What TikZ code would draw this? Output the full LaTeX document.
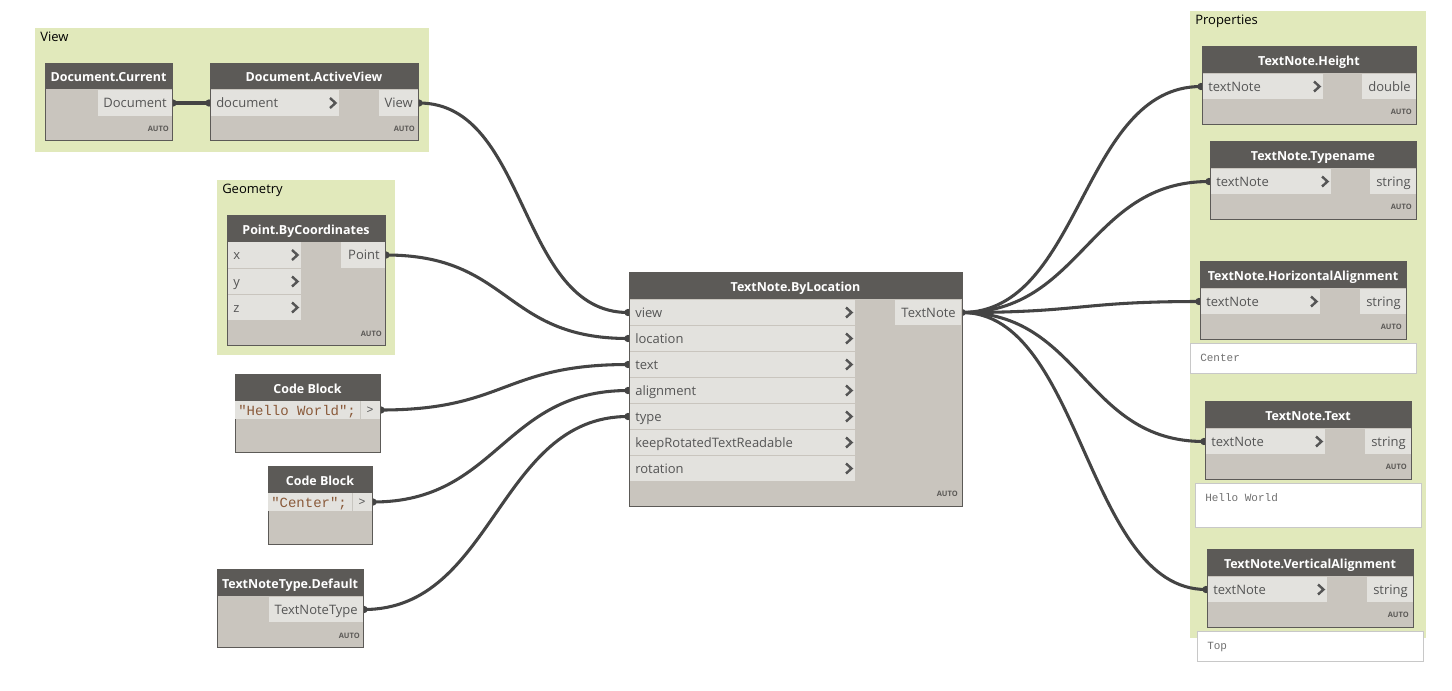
\documentclass[tikz,border=0pt]{standalone}
\usepackage{fontspec}
\setmainfont{Open Sans}
\setmonofont{Liberation Mono}
\definecolor{grp}{HTML}{E1E9BB}
\definecolor{ttl}{HTML}{5C5A57}
\definecolor{bdy}{HTML}{C9C5BE}
\definecolor{prt}{HTML}{E3E2DE}
\definecolor{sep}{HTML}{C8C6C0}
\definecolor{txt}{HTML}{555555}
\definecolor{wtx}{HTML}{707070}
\definecolor{wir}{HTML}{444444}
\definecolor{cod}{HTML}{8A5A3A}
\definecolor{bxl}{HTML}{C8C8C8}
\pgfdeclarelayer{groups}\pgfdeclarelayer{wires}
\pgfsetlayers{groups,wires,main}
\tikzset{
  x=0.75pt,y=-0.75pt,
  rct/.style={rectangle,inner sep=0pt,outer sep=0pt},
  grpbox/.style={rct,fill=grp},
  bodybox/.style={rct,fill=bdy,draw=ttl,line width=0.75pt},
  titlebar/.style={rct,fill=ttl},
  titlelbl/.style={inner sep=0pt,text=white,font=\fontsize{9.35}{10}\selectfont\bfseries},
  portbox/.style={rct,fill=prt},
  whitebox/.style={rct,fill=white,draw=bxl,line width=0.75pt},
  lbl/.style={inner sep=0pt,text=txt,font=\fontsize{9.75}{10}\selectfont},
  autolbl/.style={inner sep=0pt,text=ttl,font=\fontsize{5.6}{6}\selectfont\bfseries},
  grplbl/.style={inner sep=0pt,text=black,font=\fontsize{9.75}{10}\selectfont},
  codelbl/.style={inner sep=0pt,text=cod,font=\fontsize{10.5}{11}\selectfont\ttfamily},
  arrlbl/.style={inner sep=0pt,text=txt,font=\fontsize{8.5}{9}\selectfont\ttfamily},
  wbtxt/.style={inner sep=0pt,text=wtx,font=\fontsize{8.25}{9}\selectfont\ttfamily},
  pdot/.style={circle,fill=wir,inner sep=0pt,minimum size=5.5pt},
  wire/.style={draw=wir,line width=2.3pt},
  chev/.style={draw=txt,line width=1.8pt,line cap=butt},
}
% rectangle node from pixel corners
\newcommand{\rnode}[7]{% style,name,x1,y1,x2,y2,text
  \pgfmathsetlengthmacro{\rw}{(#5-#3)*0.75pt}%
  \pgfmathsetlengthmacro{\rh}{(#6-#4)*0.75pt}%
  \pgfmathsetmacro{\rx}{(#3+#5)/2}%
  \pgfmathsetmacro{\ry}{(#4+#6)/2}%
  \node[#1,minimum width=\rw,minimum height=\rh] (#2) at (\rx,\ry) {#7};}
% device: name,x1,y1,x2,y2,titlebottom,title
\newcommand{\device}[7]{%
  \rnode{bodybox}{#1}{#2}{#3}{#4}{#5}{}%
  \rnode{titlebar}{#1t}{#2}{#3}{#4}{#6}{}%
  \pgfmathsetmacro{\tx}{(#2+#4)/2}\pgfmathsetmacro{\ty}{#6-8}%
  \node[titlelbl,anchor=base] (#1l) at (\tx,\ty) {#7};}
\newcommand{\autotag}[3]{\node[autolbl,anchor=east] (#1a) at (#2,#3) {AUTO};}
% input port: name,x1,y1,x2,y2,text
\newcommand{\inport}[6]{%
  \rnode{portbox}{#1}{#2}{#3}{#4}{#5}{}%
  \pgfmathsetmacro{\cy}{(#3+#5)/2}%
  \pgfmathsetmacro{\lx}{#2+5}%
  \node[lbl,anchor=mid west] (#1l) at (\lx,\cy+1) {#6};
  \pgfmathsetmacro{\ca}{#4-9}\pgfmathsetmacro{\cb}{#4-3.5}%
  \pgfmathsetmacro{\cu}{\cy-5}\pgfmathsetmacro{\cd}{\cy+5}%
  \draw[chev] (\ca,\cu) -- (\cb,\cy) -- (\ca,\cd);}
% output port: name,x1,y1,x2,y2,text
\newcommand{\outport}[6]{%
  \rnode{portbox}{#1}{#2}{#3}{#4}{#5}{}%
  \pgfmathsetmacro{\cy}{(#3+#5)/2}%
  \pgfmathsetmacro{\lx}{#4-5}%
  \node[lbl,anchor=mid east] (#1l) at (\lx,\cy+1) {#6};}
\newcommand{\indot}[1]{\node[pdot] (#1d) at ([xshift=-1.5pt]#1.west) {};}
\newcommand{\outdot}[1]{\node[pdot] (#1d) at ([xshift=0.75pt]#1.east) {};}
\newcommand{\wirelink}[3]{\draw[wire] (#1d.center) .. controls +(#3,0) and +(-#3,0) .. (#2d.center);}
\newcommand{\wbox}[6]{%
  \rnode{whitebox}{#1}{#2}{#3}{#4}{#5}{}%
  \pgfmathsetmacro{\lx}{#2+10}\pgfmathsetmacro{\ly}{#3+14.5}%
  \node[wbtxt,anchor=mid west] (#1l) at (\lx,\ly) {#6};}
\newcommand{\codeblock}[7]{% name,x1,y1,x2,y2,sepx,code
  \pgfmathsetmacro{\tb}{#3+27}\pgfmathsetmacro{\rb}{#3+45}%
  \device{#1}{#2}{#3}{#4}{#5}{\tb}{Code Block}%
  \rnode{portbox}{#1c}{#2}{\tb}{#4}{\rb}{}%
  \pgfmathsetmacro{\cy}{\tb+9}\pgfmathsetmacro{\lx}{#2+3}%
  \node[codelbl,anchor=mid west] (#1k) at (\lx,\cy+1.5) {#7};
  \draw[sep,line width=0.75pt] (#6,\tb) -- (#6,\rb);
  \pgfmathsetmacro{\ax}{(#6+#4)/2}%
  \node[arrlbl] (#1g) at (\ax,\cy) {>};}
\begin{document}
\begin{tikzpicture}
\useasboundingbox (0,0) rectangle (1452,690);
\begin{pgfonlayer}{groups}
\fill[white] (0,0) rectangle (1452,690);
\rnode{grpbox}{gview}{35}{28}{429}{152}{}
\rnode{grpbox}{ggeom}{217}{180}{395}{355}{}
\rnode{grpbox}{gprop}{1190}{11}{1426}{638}{}
\end{pgfonlayer}
\node[grplbl,anchor=mid west] (gviewl) at (40,38) {View};
\node[grplbl,anchor=mid west] (ggeoml) at (222,190) {Geometry};
\node[grplbl,anchor=mid west] (gpropl) at (1195,21) {Properties};

% left side
\device{dc}{45}{63}{172}{140}{89}{Document.Current}
\outport{dcDoc}{98}{90}{172}{116}{Document}
\autotag{dc}{169}{129}
\device{dav}{210}{63}{418}{140}{89}{Document.ActiveView}
\inport{davIn}{211}{90}{339}{116}{document}
\outport{davOut}{379}{90}{418}{116}{View}
\autotag{dav}{415}{129}
\device{pt}{227}{215}{385}{345}{242}{Point.ByCoordinates}
\inport{ptx}{228}{242}{301}{268}{x}
\inport{pty}{228}{269}{301}{294}{y}
\inport{ptz}{228}{295}{301}{320}{z}
\outport{ptOut}{341}{242}{385}{268}{Point}
\autotag{pt}{382}{334}
\codeblock{cbA}{235}{374}{380}{452}{360}{"Hello World";}
\codeblock{cbB}{268}{466}{372}{544}{352}{"Center";}
\device{tt}{217}{569}{363}{647}{596}{TextNoteType.Default}
\outport{ttOut}{269}{597}{363}{622}{TextNoteType}
\autotag{tt}{360}{636}

% centre
\device{bl}{629}{272}{962}{506}{299}{TextNote.ByLocation}
\inport{blA}{630}{300}{855}{325}{view}
\inport{blB}{630}{326}{855}{351}{location}
\inport{blC}{630}{352}{855}{377}{text}
\inport{blD}{630}{378}{855}{403}{alignment}
\inport{blE}{630}{404}{855}{429}{type}
\inport{blF}{630}{430}{855}{455}{keepRotatedTextReadable}
\inport{blG}{630}{456}{855}{481}{rotation}
\outport{blOut}{895}{300}{961}{325}{TextNote}
\autotag{bl}{958}{494}

% right side
\device{ph}{1202}{46}{1416}{124}{73}{TextNote.Height}
\inport{phIn}{1203}{74}{1323}{99}{textNote}
\outport{phOut}{1362}{74}{1416}{99}{double}
\autotag{ph}{1412}{112}
\device{pn}{1210}{141}{1416}{219}{168}{TextNote.Typename}
\inport{pnIn}{1211}{169}{1331}{194}{textNote}
\outport{pnOut}{1370}{169}{1416}{194}{string}
\autotag{pn}{1412}{207}
\device{pa}{1200}{261}{1406}{339}{288}{TextNote.HorizontalAlignment}
\inport{paIn}{1201}{289}{1320}{314}{textNote}
\outport{paOut}{1360}{289}{1406}{314}{string}
\autotag{pa}{1402}{327}
\wbox{wa}{1190}{343}{1416}{373}{Center}
\device{px}{1205}{401}{1411}{479}{428}{TextNote.Text}
\inport{pxIn}{1206}{429}{1325}{454}{textNote}
\outport{pxOut}{1365}{429}{1411}{454}{string}
\autotag{px}{1407}{467}
\wbox{wb}{1195}{483}{1421}{527}{Hello World}
\device{pv}{1207}{549}{1413}{627}{576}{TextNote.VerticalAlignment}
\inport{pvIn}{1208}{577}{1327}{602}{textNote}
\outport{pvOut}{1367}{577}{1413}{602}{string}
\autotag{pv}{1409}{615}
\wbox{wc}{1197}{631}{1423}{661}{Top}

\begin{pgfonlayer}{wires}
\outdot{dcDoc}\indot{davIn}\outdot{davOut}\outdot{ptOut}
\outdot{cbAc}\outdot{cbBc}\outdot{ttOut}
\indot{blA}\indot{blB}\indot{blC}\indot{blD}\indot{blE}\outdot{blOut}
\indot{phIn}\indot{pnIn}\indot{paIn}\indot{pxIn}\indot{pvIn}
\wirelink{dcDoc}{davIn}{15}
\wirelink{davOut}{blA}{110}
\wirelink{ptOut}{blB}{125}
\wirelink{cbAc}{blC}{125}
\wirelink{cbBc}{blD}{125}
\wirelink{ttOut}{blE}{130}
\wirelink{blOut}{phIn}{120}
\wirelink{blOut}{pnIn}{120}
\wirelink{blOut}{paIn}{120}
\wirelink{blOut}{pxIn}{120}
\wirelink{blOut}{pvIn}{120}
\end{pgfonlayer}
\end{tikzpicture}
\end{document}
